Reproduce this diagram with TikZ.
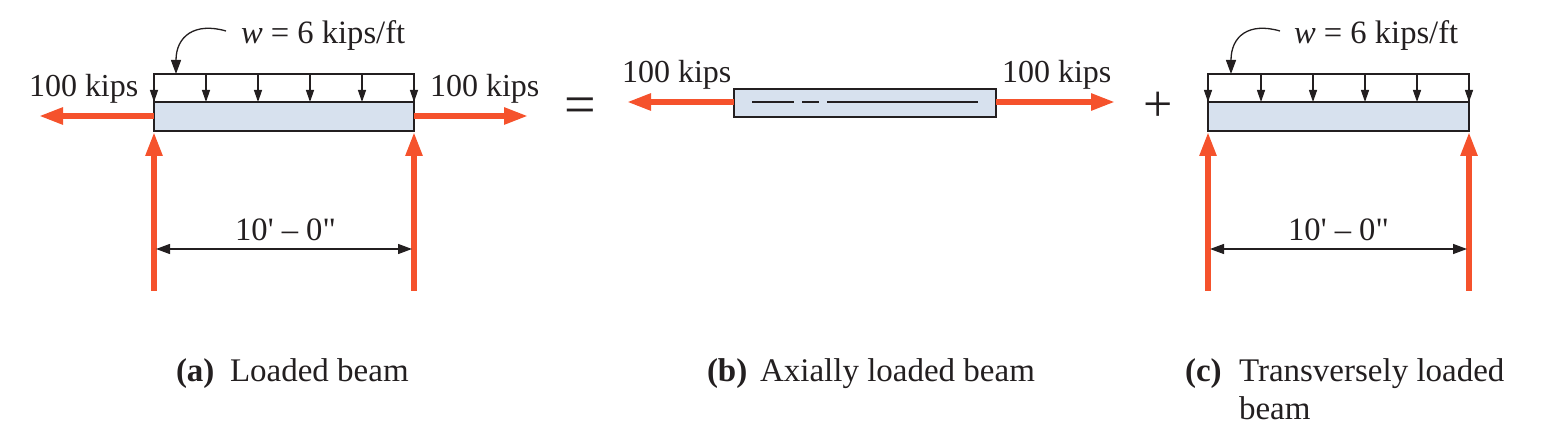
\documentclass[tikz,border=0pt]{standalone}
\usepackage{fontspec}
\setmainfont{Liberation Serif}[Ligatures=TeXOff]
\usetikzlibrary{arrows.meta}
\definecolor{forcecol}{RGB}{245,82,44}
\definecolor{beamcol}{RGB}{215,225,238}
\definecolor{inkcol}{RGB}{35,31,32}
\tikzset{
  x=1pt,y=-1pt,
  beamnode/.style={draw=inkcol,line width=2pt,fill=beamcol,inner sep=0pt,outer sep=0pt,minimum width=#1,minimum height=29pt},
  force/.style={draw=forcecol,line width=5.5pt,-{Triangle[length=24pt,width=16pt]}},
  loadarrow/.style={draw=inkcol,line width=1.3pt,-{Triangle[length=12pt,width=8pt]}},
  dimline/.style={draw=inkcol,line width=1.3pt,{Triangle[length=14pt,width=10pt]}-{Triangle[length=14pt,width=10pt]}},
  leader/.style={draw=inkcol,line width=1.3pt,-{Triangle[length=14pt,width=10pt]}},
  label/.style={font=\fontsize{32.6}{36}\selectfont,text=inkcol,inner sep=0pt,outer sep=0pt},
  kipslabel/.style={label,font=\fontsize{32}{36}\selectfont,anchor=base west},
  leftlabel/.style={label,font=\fontsize{33}{36}\selectfont,anchor=base west},
}
\begin{document}
\begin{tikzpicture}
\useasboundingbox (0,0) rectangle (1559,422);
% --- beam (a)
\node[beamnode=260pt] (A) at (284,116.5) {};
\coordinate (Atl) at (154,74); \coordinate (Atr) at (414,74);
\draw[draw=inkcol,line width=1.6pt] (A.north west) -- (Atl) -- (Atr) -- (A.north east);
\foreach \i/\xx in {0/154,1/206,2/258,3/310,4/362,5/414}{
  \coordinate (At\i) at (\xx,74); \coordinate (Ab\i) at (\xx,102);
  \draw[loadarrow] (At\i) -- (Ab\i);
}
\coordinate (ALend) at (39,116); \coordinate (ARend) at (528,116);
\draw[force] (A.west |- ALend) -- (ALend);
\draw[force] (A.east |- ARend) -- (ARend);
\coordinate (ALs) at (154,291); \coordinate (ALh) at (154,132);
\coordinate (ARs) at (414,291); \coordinate (ARh) at (414,132);
\draw[force] (ALs) -- (ALh);
\draw[force] (ARs) -- (ARh);
\coordinate (ADl) at (156,249); \coordinate (ADr) at (412,249);
\draw[dimline] (ADl) -- (ADr);
\node[label] (Adim) at (285.5,230) {10' – 0"};
\node[label,anchor=base west] (Aw) at (241,43.5) {\textit{w} = 6 kips/ft};
\node[kipslabel] (Al1) at (29,97) {100 kips};
\node[kipslabel] (Al2) at (430,97) {100 kips};
\coordinate (Alead) at (176,74);
\draw[leader] (226,31) .. controls (195,22) and (176,36) .. (Alead);
% --- equals
\node[label,font=\fontsize{56}{56}\selectfont] (eq) at (580,111) {=};
% --- beam (b)
\node[beamnode=262pt,minimum height=28pt] (B) at (865,103) {};
\coordinate (BLend) at (627,102); \coordinate (BRend) at (1115,102);
\draw[force] (B.west |- BLend) -- (BLend);
\draw[force] (B.east |- BRend) -- (BRend);
\coordinate (Bc1) at (752,102); \coordinate (Bc2) at (794,102);
\coordinate (Bc3) at (802,102); \coordinate (Bc4) at (819,102);
\coordinate (Bc5) at (827,102); \coordinate (Bc6) at (978,102);
\draw[draw=inkcol,line width=1.2pt] (Bc1) -- (Bc2) (Bc3) -- (Bc4) (Bc5) -- (Bc6);
\node[kipslabel] (Bl1) at (622,83) {100 kips};
\node[kipslabel] (Bl2) at (1002,83) {100 kips};
% --- plus
\node[label,font=\fontsize{52}{52}\selectfont] (plus) at (1158,107) {+};
% --- beam (c)
\node[beamnode=261pt] (C) at (1338.5,116.5) {};
\coordinate (Ctl) at (1208,74); \coordinate (Ctr) at (1469,74);
\draw[draw=inkcol,line width=1.6pt] (C.north west) -- (Ctl) -- (Ctr) -- (C.north east);
\foreach \i/\xx in {0/1208,1/1261,2/1313,3/1365,4/1417,5/1469}{
  \coordinate (Ct\i) at (\xx,74); \coordinate (Cb\i) at (\xx,102);
  \draw[loadarrow] (Ct\i) -- (Cb\i);
}
\coordinate (CLs) at (1208,291); \coordinate (CLh) at (1208,132);
\coordinate (CRs) at (1469,291); \coordinate (CRh) at (1469,132);
\draw[force] (CLs) -- (CLh);
\draw[force] (CRs) -- (CRh);
\coordinate (CDl) at (1210,249); \coordinate (CDr) at (1467,249);
\draw[dimline] (CDl) -- (CDr);
\node[label] (Cdim) at (1338.5,230) {10' – 0"};
\node[label,anchor=base west] (Cw) at (1294,43.5) {\textit{w} = 6 kips/ft};
\coordinate (Clead) at (1231,74);
\draw[leader] (1280,31) .. controls (1249,22) and (1231,36) .. (Clead);
% --- captions
\node[leftlabel] (capa) at (176,381) {\textbf{(a)}};
\node[leftlabel] (capat) at (230,381) {Loaded beam};
\node[leftlabel] (capb) at (707,381) {\textbf{(b)}};
\node[leftlabel] (capbt) at (760,381) {Axially loaded beam};
\node[leftlabel] (capc) at (1185,381) {\textbf{(c)}};
\node[leftlabel] (capct) at (1239,381) {Transversely loaded};
\node[leftlabel] (capct2) at (1239,419) {beam};
\end{tikzpicture}
\end{document}
